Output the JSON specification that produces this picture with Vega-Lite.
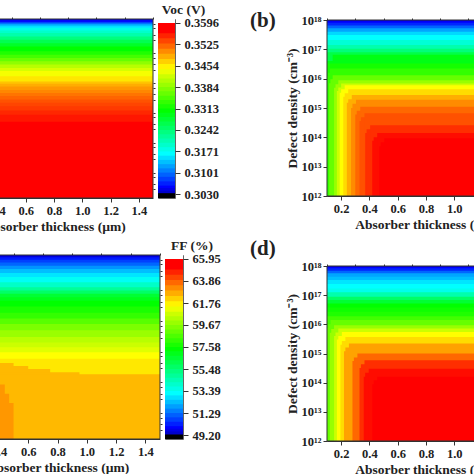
{
"$schema":"https://vega.github.io/schema/vega-lite/v6.json",
"background":"white",
"padding":{"left":-89,"top":2,"right":0,"bottom":0},
"config":{"view":{"stroke":null},
"axis":{"labelFont":"Liberation Serif","labelFontWeight":"bold","labelFontSize":12.5,"labelColor":"#222","titleFont":"Liberation Serif","titleFontWeight":"bold","titleFontSize":13.5,"titleColor":"#222","tickColor":"#333","domainColor":"#333","grid":false,"tickSize":4},
"title":{"font":"Liberation Serif","fontWeight":"bold","color":"#222"}},
"datasets":{
"a":[{"x":0.1,"y":1e18,"v":0.3047},{"x":0.1,"y":9e17,"v":0.3064},{"x":0.1,"y":7.8e17,"v":0.3098},{"x":0.1,"y":7.1e17,"v":0.3121},{"x":0.1,"y":6.5e17,"v":0.3143},{"x":0.1,"y":5.7e17,"v":0.3163},{"x":0.1,"y":5e17,"v":0.3183},{"x":0.1,"y":4.1e17,"v":0.32},{"x":0.1,"y":3.4e17,"v":0.3217},{"x":0.1,"y":2.6e17,"v":0.3243},{"x":0.1,"y":2e17,"v":0.3268},{"x":0.1,"y":1.55e17,"v":0.329},{"x":0.1,"y":1.2e17,"v":0.3313},{"x":0.1,"y":8.3e16,"v":0.333},{"x":0.1,"y":6.3e16,"v":0.335},{"x":0.1,"y":4.9e16,"v":0.337},{"x":0.1,"y":3.8e16,"v":0.3392},{"x":0.1,"y":3e16,"v":0.3415},{"x":0.1,"y":2.3e16,"v":0.3432},{"x":0.1,"y":1.8e16,"v":0.3449},{"x":0.1,"y":1.2e16,"v":0.3466},{"x":0.1,"y":8.1e15,"v":0.3483},{"x":0.1,"y":6.7e15,"v":0.3494},{"x":0.1,"y":5.5e15,"v":0.3505},{"x":0.1,"y":4.2e15,"v":0.3513},{"x":0.1,"y":3.3e15,"v":0.3522},{"x":0.1,"y":2.6e15,"v":0.353},{"x":0.1,"y":2e15,"v":0.3539},{"x":0.1,"y":1.55e15,"v":0.3545},{"x":0.1,"y":1.2e15,"v":0.3551},{"x":0.1,"y":8.6e14,"v":0.356},{"x":0.1,"y":6.2e14,"v":0.3568},{"x":0.1,"y":3.6e14,"v":0.3582},{"x":0.1,"y":1.6e14,"v":0.3596},{"x":0.48,"y":2.2e14,"v":0.3596}],
"c":[{"x":0.1,"x2":1.5,"y":1e18,"v":49.7},{"x":0.1,"x2":1.5,"y":8.4e17,"v":50.37},{"x":0.1,"x2":1.5,"y":7e17,"v":50.9},{"x":0.1,"x2":1.5,"y":5.7e17,"v":51.38},{"x":0.1,"x2":1.5,"y":4.5e17,"v":52},{"x":0.1,"x2":1.5,"y":3.5e17,"v":52.55},{"x":0.1,"x2":1.5,"y":2.6e17,"v":53.06},{"x":0.1,"x2":1.5,"y":1.9e17,"v":53.56},{"x":0.1,"x2":1.5,"y":1.3e17,"v":54.3},{"x":0.1,"x2":1.5,"y":8.9e16,"v":55.06},{"x":0.1,"x2":1.5,"y":6.9e16,"v":55.9},{"x":0.1,"x2":1.5,"y":5.4e16,"v":56.74},{"x":0.1,"x2":1.5,"y":4.2e16,"v":57.16},{"x":0.1,"x2":1.5,"y":3.2e16,"v":57.58},{"x":0.1,"x2":1.5,"y":2.1e16,"v":58},{"x":0.1,"x2":1.5,"y":1.3e16,"v":58.41},{"x":0.1,"x2":1.5,"y":8.5e15,"v":59},{"x":0.1,"x2":1.5,"y":5.6e15,"v":59.59},{"x":0.1,"x2":1.5,"y":3.5e15,"v":60.1},{"x":0.1,"x2":1.5,"y":2.1e15,"v":60.59},{"x":0.1,"x2":1.5,"y":1.4e15,"v":60.9},{"x":0.1,"x2":1.5,"y":9.8e14,"v":61.26},{"x":0.1,"x2":1.5,"y":6.8e14,"v":61.76},{"x":0.1,"x2":1.5,"y":4.1e14,"v":62.1},{"x":0.1,"x2":0.5,"y":3e14,"v":62.77},{"x":0.1,"x2":0.6,"y":2.4e14,"v":62.77},{"x":0.1,"x2":0.75,"y":1.9e14,"v":62.77},{"x":0.1,"x2":0.95,"y":1.5e14,"v":62.77},{"x":0.1,"x2":1.5,"y":1.3e14,"v":62.77},{"x":0.1,"x2":0.44,"y":6e13,"v":63.27},{"x":0.1,"x2":0.47,"y":3e13,"v":63.27},{"x":0.1,"x2":0.5,"y":1.5e13,"v":63.27}],
"b":[{"x":0.1,"y":1e18,"v":0.03},{"x":0.1,"y":9e17,"v":0.05},{"x":0.1,"y":8.1e17,"v":0.08},{"x":0.1,"y":6.5e17,"v":0.13},{"x":0.1,"y":5.2e17,"v":0.18},{"x":0.1,"y":4e17,"v":0.22},{"x":0.1,"y":3.1e17,"v":0.25},{"x":0.1,"y":2.1e17,"v":0.29},{"x":0.1,"y":1.4e17,"v":0.33},{"x":0.1,"y":1.05e17,"v":0.38},{"x":0.1,"y":8e16,"v":0.43},{"x":0.14,"y":6.5e16,"v":0.48},{"x":0.1,"y":4e16,"v":0.48},{"x":0.1,"y":3.3e16,"v":0.52},{"x":0.1,"y":1.2e16,"v":0.55},{"x":0.108,"y":1.6e16,"v":0.55},{"x":0.12,"y":2.2e16,"v":0.55},{"x":0.115,"y":7e15,"v":0.6},{"x":0.124,"y":9.5e15,"v":0.6},{"x":0.14,"y":1.3e16,"v":0.6},{"x":0.15,"y":4.9e15,"v":0.65},{"x":0.16,"y":6.5e15,"v":0.65},{"x":0.18,"y":8.9e15,"v":0.65},{"x":0.17,"y":3.8e15,"v":0.7},{"x":0.18,"y":5e15,"v":0.7},{"x":0.2,"y":6.9e15,"v":0.7},{"x":0.19,"y":3.3e15,"v":0.75},{"x":0.2,"y":4.4e15,"v":0.75},{"x":0.225,"y":6e15,"v":0.75},{"x":0.215,"y":2.4e15,"v":0.78},{"x":0.225,"y":3.2e15,"v":0.78},{"x":0.25,"y":4.4e15,"v":0.78},{"x":0.24,"y":1.5e15,"v":0.82},{"x":0.25,"y":2e15,"v":0.82},{"x":0.275,"y":2.8e15,"v":0.82},{"x":0.27,"y":1e15,"v":0.85},{"x":0.28,"y":1.4e15,"v":0.85},{"x":0.305,"y":1.9e15,"v":0.85},{"x":0.3,"y":6e14,"v":0.88},{"x":0.31,"y":8e14,"v":0.88},{"x":0.335,"y":1.1e15,"v":0.88},{"x":0.33,"y":3.6e14,"v":0.9},{"x":0.34,"y":4.8e14,"v":0.9},{"x":0.365,"y":6.6e14,"v":0.9},{"x":0.37,"y":1.4e14,"v":0.93},{"x":0.38,"y":1.9e14,"v":0.93},{"x":0.405,"y":2.6e14,"v":0.93},{"x":0.42,"y":7.7e13,"v":0.96},{"x":0.43,"y":1e14,"v":0.96},{"x":0.455,"y":1.4e14,"v":0.96},{"x":0.47,"y":5e13,"v":0.99},{"x":0.48,"y":6.8e13,"v":0.99},{"x":0.505,"y":9.3e13,"v":0.99}],
"d":[{"x":0.1,"y":1e18,"v":0.03},{"x":0.1,"y":9.2e17,"v":0.05},{"x":0.1,"y":8.3e17,"v":0.08},{"x":0.1,"y":6.9e17,"v":0.13},{"x":0.1,"y":5.6e17,"v":0.18},{"x":0.1,"y":4.3e17,"v":0.2},{"x":0.1,"y":3.3e17,"v":0.23},{"x":0.1,"y":2.4e17,"v":0.25},{"x":0.1,"y":1.7e17,"v":0.27},{"x":0.1,"y":1.25e17,"v":0.33},{"x":0.1,"y":8.9e16,"v":0.4},{"x":0.1,"y":6.8e16,"v":0.45},{"x":0.1,"y":5.2e16,"v":0.5},{"x":0.1,"y":3.8e16,"v":0.515},{"x":0.1,"y":2.7e16,"v":0.53},{"x":0.1,"y":1.9e16,"v":0.565},{"x":0.1,"y":7.7e15,"v":0.6},{"x":0.109,"y":1e16,"v":0.6},{"x":0.125,"y":1.4e16,"v":0.6},{"x":0.12,"y":5.1e15,"v":0.65},{"x":0.13,"y":6.9e15,"v":0.65},{"x":0.15,"y":9.3e15,"v":0.65},{"x":0.15,"y":4e15,"v":0.7},{"x":0.16,"y":5.3e15,"v":0.7},{"x":0.18,"y":7.2e15,"v":0.7},{"x":0.17,"y":3e15,"v":0.75},{"x":0.18,"y":4e15,"v":0.75},{"x":0.205,"y":5.5e15,"v":0.75},{"x":0.195,"y":2e15,"v":0.78},{"x":0.205,"y":2.7e15,"v":0.78},{"x":0.23,"y":3.7e15,"v":0.78},{"x":0.22,"y":1.2e15,"v":0.83},{"x":0.23,"y":1.6e15,"v":0.83},{"x":0.255,"y":2.2e15,"v":0.83},{"x":0.28,"y":5.5e14,"v":0.88},{"x":0.29,"y":7.3e14,"v":0.88},{"x":0.315,"y":1e15,"v":0.88},{"x":0.33,"y":3.2e14,"v":0.93},{"x":0.34,"y":4.3e14,"v":0.93},{"x":0.365,"y":5.9e14,"v":0.93},{"x":0.36,"y":1.6e14,"v":0.96},{"x":0.37,"y":2.2e14,"v":0.96},{"x":0.395,"y":3e14,"v":0.96},{"x":0.42,"y":8.8e13,"v":0.98},{"x":0.43,"y":1.2e14,"v":0.98},{"x":0.455,"y":1.6e14,"v":0.98},{"x":0.46,"y":4.5e13,"v":1},{"x":0.47,"y":6e13,"v":1},{"x":0.495,"y":8.1e13,"v":1}],
"barA":[{"v":0.3609},{"v":0.3596},{"v":0.3579},{"v":0.3562},{"v":0.3545},{"v":0.3528},{"v":0.3511},{"v":0.3494},{"v":0.3477},{"v":0.346},{"v":0.3443},{"v":0.3426},{"v":0.3412},{"v":0.3398},{"v":0.3384},{"v":0.337},{"v":0.3355},{"v":0.3341},{"v":0.3327},{"v":0.3313},{"v":0.3299},{"v":0.3285},{"v":0.327},{"v":0.3256},{"v":0.3242},{"v":0.3228},{"v":0.3214},{"v":0.32},{"v":0.3185},{"v":0.3171},{"v":0.3157},{"v":0.3143},{"v":0.3129},{"v":0.3115},{"v":0.3101},{"v":0.3087},{"v":0.3072},{"v":0.3058},{"v":0.305},{"v":0.3041},{"v":0.3033}],
"barC":[{"v":66.33},{"v":65.95},{"v":65.45},{"v":64.95},{"v":64.44},{"v":63.94},{"v":63.44},{"v":62.94},{"v":62.43},{"v":61.93},{"v":61.43},{"v":60.93},{"v":60.51},{"v":60.09},{"v":59.67},{"v":59.25},{"v":58.83},{"v":58.41},{"v":57.99},{"v":57.58},{"v":57.16},{"v":56.74},{"v":56.32},{"v":55.9},{"v":55.48},{"v":55.06},{"v":54.64},{"v":54.23},{"v":53.81},{"v":53.39},{"v":52.97},{"v":52.55},{"v":52.13},{"v":51.71},{"v":51.29},{"v":50.88},{"v":50.46},{"v":50.04},{"v":49.8},{"v":49.54},{"v":49.25}]
},
"spacing":5,
"resolve":{"scale":{"color":"independent"}},
"vconcat":[
{"spacing":31,"resolve":{"scale":{"color":"independent"}},"hconcat":[
 {"bounds":"flush","spacing":5,"resolve":{"scale":{"color":"independent"}},"hconcat":[
  {"width":198,"height":179,"resolve":{"axis":{"x":"independent","y":"independent"}},"layer":[
   {"data":{"name":"a"},"mark":"rect","encoding":{
    "x":{"field":"x","type":"quantitative","scale":{"domain":[0.1,1.5],"nice":false},"axis":{"values":[0.2,0.4,0.6,0.8,1.0,1.2,1.4],"format":".1f","title":"Absorber thickness (µm)","labelPadding":2,"titlePadding":3}},
    "x2":{"datum":1.5},
    "y":{"field":"y","type":"quantitative","scale":{"type":"log","domain":[1e12,1e18]},"axis":{"values":[1e12,1e13,1e14,1e15,1e16,1e17,1e18],"labelExpr":"['10¹²','10¹³','10¹⁴','10¹⁵','10¹⁶','10¹⁷','10¹⁸'][round(log(datum.value)/LN10)-12]","title":"Defect density (cm⁻³)"}},
    "y2":{"datum":1e12},
    "color":{"field":"v","type":"quantitative","legend":null,"scale":{"interpolate":"rgb","domain":[0.3017,0.3034,0.304,0.3058,0.3171,0.3313,0.3454,0.3579,0.3596,0.3598,0.3609],"range":["#000000","#000000","#0000c8","#0000ff","#00ffff","#00ff00","#ffff00","#ff0000","#ff0000","#ffffff","#ffffff"]}}}},
   {"data":{"values":[{"x":0.1,"y":1e18}]},"mark":{"type":"rect","filled":false,"stroke":"#333","strokeWidth":1},"encoding":{
    "x":{"field":"x","type":"quantitative","scale":{"domain":[0.1,1.5],"nice":false},"axis":{"values":[0.1,0.3,0.5,0.7,0.9,1.1,1.3,1.5],"labels":false,"tickSize":2,"domain":false,"title":null}},
    "x2":{"datum":1.5},
    "y":{"field":"y","type":"quantitative","scale":{"type":"log","domain":[1e12,1e18]},"axis":{"values":[2e12,3e12,5e12,7e12,2e13,3e13,5e13,7e13,2e14,3e14,5e14,7e14,2e15,3e15,5e15,7e15,2e16,3e16,5e16,7e16,2e17,3e17,5e17,7e17],"labels":false,"tickSize":2,"domain":false,"title":null}},
    "y2":{"datum":1e12}}}
  ]},
  {"width":17,"height":179,"view":{"stroke":"#666"},"title":{"text":"Voc (V)","fontSize":13.5,"dx":17,"offset":0},"data":{"name":"barA"},"mark":{"type":"rect","stroke":null},"encoding":{
    "y":{"field":"v","type":"quantitative","scale":{"domain":[0.3017,0.3609],"nice":false,"zero":false},"axis":{"orient":"right","values":[0.303,0.3101,0.3171,0.3242,0.3313,0.3384,0.3454,0.3525,0.3596],"format":".4f","title":null,"domain":false,"labelPadding":4,"tickSize":5}},
    "y2":{"datum":0.3017},
    "color":{"field":"v","type":"quantitative","legend":null,"scale":{"interpolate":"rgb","domain":[0.3017,0.3034,0.304,0.3058,0.3171,0.3313,0.3454,0.3579,0.3596,0.3598,0.3609],"range":["#000000","#000000","#0000c8","#0000ff","#00ffff","#00ff00","#ffff00","#ff0000","#ff0000","#ffffff","#ffffff"]}}}}
 ]},
 {"bounds":"flush","spacing":0,"resolve":{"scale":{"color":"independent"}},"vconcat":[
  {"width":198,"height":1,"title":{"text":"(b)","fontSize":21,"anchor":"start","frame":"group","dx":-77,"dy":12,"offset":0},"data":{"values":[]},"mark":"point"},
  {"width":198,"height":176,"resolve":{"axis":{"x":"independent","y":"independent"}},"layer":[
   {"data":{"name":"b"},"mark":"rect","encoding":{
    "x":{"field":"x","type":"quantitative","scale":{"domain":[0.1,1.5],"nice":false},"axis":{"values":[0.2,0.4,0.6,0.8,1.0,1.2,1.4],"format":".1f","title":"Absorber thickness (µm)","labelPadding":2,"titlePadding":3}},
    "x2":{"datum":1.5},
    "y":{"field":"y","type":"quantitative","scale":{"type":"log","domain":[1e12,1e18]},"axis":{"values":[1e12,1e13,1e14,1e15,1e16,1e17,1e18],"labelExpr":"['10¹²','10¹³','10¹⁴','10¹⁵','10¹⁶','10¹⁷','10¹⁸'][round(log(datum.value)/LN10)-12]","title":"Defect density (cm⁻³)","titlePadding":2}},
    "y2":{"datum":1e12},
    "color":{"field":"v","type":"quantitative","legend":null,"scale":{"interpolate":"rgb","domain":[0,0.02,0.05,0.25,0.5,0.75,0.97,1],"range":["#000060","#0000c8","#0000ff","#00ffff","#00ff00","#ffff00","#ff0000","#ff0000"]}}}},
   {"data":{"values":[{"x":0.1,"y":1e18}]},"mark":{"type":"rect","filled":false,"stroke":"#333","strokeWidth":1},"encoding":{
    "x":{"field":"x","type":"quantitative","scale":{"domain":[0.1,1.5],"nice":false},"axis":{"values":[0.1,0.3,0.5,0.7,0.9,1.1,1.3,1.5],"labels":false,"tickSize":2,"domain":false,"title":null}},
    "x2":{"datum":1.5},
    "y":{"field":"y","type":"quantitative","scale":{"type":"log","domain":[1e12,1e18]},"axis":{"values":[2e12,3e12,5e12,7e12,2e13,3e13,5e13,7e13,2e14,3e14,5e14,7e14,2e15,3e15,5e15,7e15,2e16,3e16,5e16,7e16,2e17,3e17,5e17,7e17],"labels":false,"tickSize":2,"domain":false,"title":null}},
    "y2":{"datum":1e12}}}
  ]}
 ]}
]},
{"spacing":29,"resolve":{"scale":{"color":"independent"}},"hconcat":[
 {"bounds":"flush","spacing":5,"resolve":{"scale":{"color":"independent"}},"hconcat":[
  {"width":205,"height":184,"resolve":{"axis":{"x":"independent","y":"independent"}},"layer":[
   {"data":{"name":"c"},"mark":"rect","encoding":{
    "x":{"field":"x","type":"quantitative","scale":{"domain":[0.1,1.5],"nice":false},"axis":{"values":[0.2,0.4,0.6,0.8,1.0,1.2,1.4],"format":".1f","title":"Absorber thickness (µm)","labelPadding":2,"titlePadding":3}},
    "x2":{"field":"x2"},
    "y":{"field":"y","type":"quantitative","scale":{"type":"log","domain":[1e12,1e18]},"axis":{"values":[1e12,1e13,1e14,1e15,1e16,1e17,1e18],"labelExpr":"['10¹²','10¹³','10¹⁴','10¹⁵','10¹⁶','10¹⁷','10¹⁸'][round(log(datum.value)/LN10)-12]","title":"Defect density (cm⁻³)"}},
    "y2":{"datum":1e12},
    "color":{"field":"v","type":"quantitative","legend":null,"scale":{"interpolate":"rgb","domain":[48.82,49.3,49.5,50.04,53.39,57.58,61.76,65.45,65.95,66,66.33],"range":["#000000","#000000","#0000c8","#0000ff","#00ffff","#00ff00","#ffff00","#ff0000","#ff0000","#ffffff","#ffffff"]}}}},
   {"data":{"values":[{"x":0.1,"y":1e18}]},"mark":{"type":"rect","filled":false,"stroke":"#333","strokeWidth":1},"encoding":{
    "x":{"field":"x","type":"quantitative","scale":{"domain":[0.1,1.5],"nice":false},"axis":{"values":[0.1,0.3,0.5,0.7,0.9,1.1,1.3,1.5],"labels":false,"tickSize":2,"domain":false,"title":null}},
    "x2":{"datum":1.5},
    "y":{"field":"y","type":"quantitative","scale":{"type":"log","domain":[1e12,1e18]},"axis":{"values":[2e12,3e12,5e12,7e12,2e13,3e13,5e13,7e13,2e14,3e14,5e14,7e14,2e15,3e15,5e15,7e15,2e16,3e16,5e16,7e16,2e17,3e17,5e17,7e17],"labels":false,"tickSize":2,"domain":false,"title":null}},
    "y2":{"datum":1e12}}}
  ]},
  {"width":18,"height":184,"view":{"stroke":"#666"},"title":{"text":"FF (%)","fontSize":13.5,"dx":18,"offset":0},"data":{"name":"barC"},"mark":{"type":"rect","stroke":null},"encoding":{
    "y":{"field":"v","type":"quantitative","scale":{"domain":[48.82,66.33],"nice":false,"zero":false},"axis":{"orient":"right","values":[49.2,51.29,53.39,55.48,57.58,59.67,61.76,63.86,65.95],"format":".2f","title":null,"domain":false,"labelPadding":4,"tickSize":5}},
    "y2":{"datum":48.82},
    "color":{"field":"v","type":"quantitative","legend":null,"scale":{"interpolate":"rgb","domain":[48.82,49.3,49.5,50.04,53.39,57.58,61.76,65.45,65.95,66,66.33],"range":["#000000","#000000","#0000c8","#0000ff","#00ffff","#00ff00","#ffff00","#ff0000","#ff0000","#ffffff","#ffffff"]}}}}
 ]},
 {"bounds":"flush","spacing":0,"resolve":{"scale":{"color":"independent"}},"vconcat":[
  {"width":198,"height":11,"title":{"text":"(d)","fontSize":21,"anchor":"start","frame":"group","dx":-77,"offset":-4},"data":{"values":[]},"mark":"point"},
  {"width":198,"height":175,"resolve":{"axis":{"x":"independent","y":"independent"}},"layer":[
   {"data":{"name":"d"},"mark":"rect","encoding":{
    "x":{"field":"x","type":"quantitative","scale":{"domain":[0.1,1.5],"nice":false},"axis":{"values":[0.2,0.4,0.6,0.8,1.0,1.2,1.4],"format":".1f","title":"Absorber thickness (µm)","labelPadding":2,"titlePadding":3}},
    "x2":{"datum":1.5},
    "y":{"field":"y","type":"quantitative","scale":{"type":"log","domain":[1e12,1e18]},"axis":{"values":[1e12,1e13,1e14,1e15,1e16,1e17,1e18],"labelExpr":"['10¹²','10¹³','10¹⁴','10¹⁵','10¹⁶','10¹⁷','10¹⁸'][round(log(datum.value)/LN10)-12]","title":"Defect density (cm⁻³)","titlePadding":2}},
    "y2":{"datum":1e12},
    "color":{"field":"v","type":"quantitative","legend":null,"scale":{"interpolate":"rgb","domain":[0,0.02,0.05,0.25,0.5,0.75,0.97,1],"range":["#000060","#0000c8","#0000ff","#00ffff","#00ff00","#ffff00","#ff0000","#ff0000"]}}}},
   {"data":{"values":[{"x":0.1,"y":1e18}]},"mark":{"type":"rect","filled":false,"stroke":"#333","strokeWidth":1},"encoding":{
    "x":{"field":"x","type":"quantitative","scale":{"domain":[0.1,1.5],"nice":false},"axis":{"values":[0.1,0.3,0.5,0.7,0.9,1.1,1.3,1.5],"labels":false,"tickSize":2,"domain":false,"title":null}},
    "x2":{"datum":1.5},
    "y":{"field":"y","type":"quantitative","scale":{"type":"log","domain":[1e12,1e18]},"axis":{"values":[2e12,3e12,5e12,7e12,2e13,3e13,5e13,7e13,2e14,3e14,5e14,7e14,2e15,3e15,5e15,7e15,2e16,3e16,5e16,7e16,2e17,3e17,5e17,7e17],"labels":false,"tickSize":2,"domain":false,"title":null}},
    "y2":{"datum":1e12}}}
  ]}
 ]}
]}
]
}
